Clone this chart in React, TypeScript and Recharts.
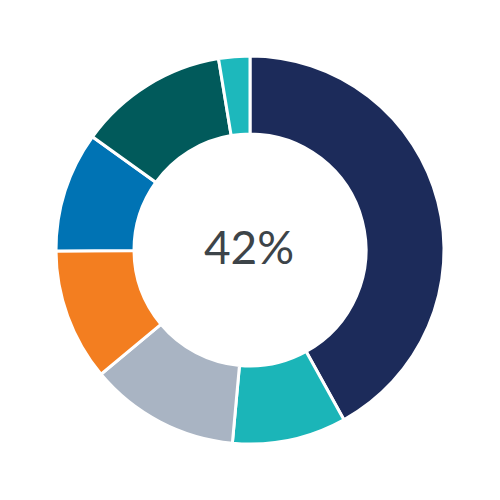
import { PieChart, Pie, Cell } from "recharts";

const segments = ["Navy", "Teal", "Gray", "Orange", "Blue", "Dark teal", "Light teal"];
const shares = [42, 9.5, 12.5, 11, 10, 12.5, 2.6];
const colors = ["#1c2b5a", "#1bb5b8", "#a9b4c3", "#f37e20", "#0073b4", "#015a5b", "#1db8bc"];
const centerLabel = "42%";

const data = segments.map((name, i) => ({ name, value: shares[i] }));

export default function App() {
  return (
    <PieChart width={484} height={484}>
      <Pie
        data={data}
        dataKey="value"
        cx={237}
        cy={237}
        innerRadius={116}
        outerRadius={194}
        startAngle={90}
        endAngle={-270}
        stroke="#ffffff"
        strokeWidth={3}
        isAnimationActive={false}
      >
        {data.map((entry, index) => (
          <Cell key={`cell-${index}`} fill={colors[index]} />
        ))}
      </Pie>
      <text
        x={241}
        y={238}
        textAnchor="middle"
        dominantBaseline="central"
        fontFamily="Lato, sans-serif"
        fontSize={46}
        fill="#3d4449"
      >
        {centerLabel}
      </text>
    </PieChart>
  );
}
